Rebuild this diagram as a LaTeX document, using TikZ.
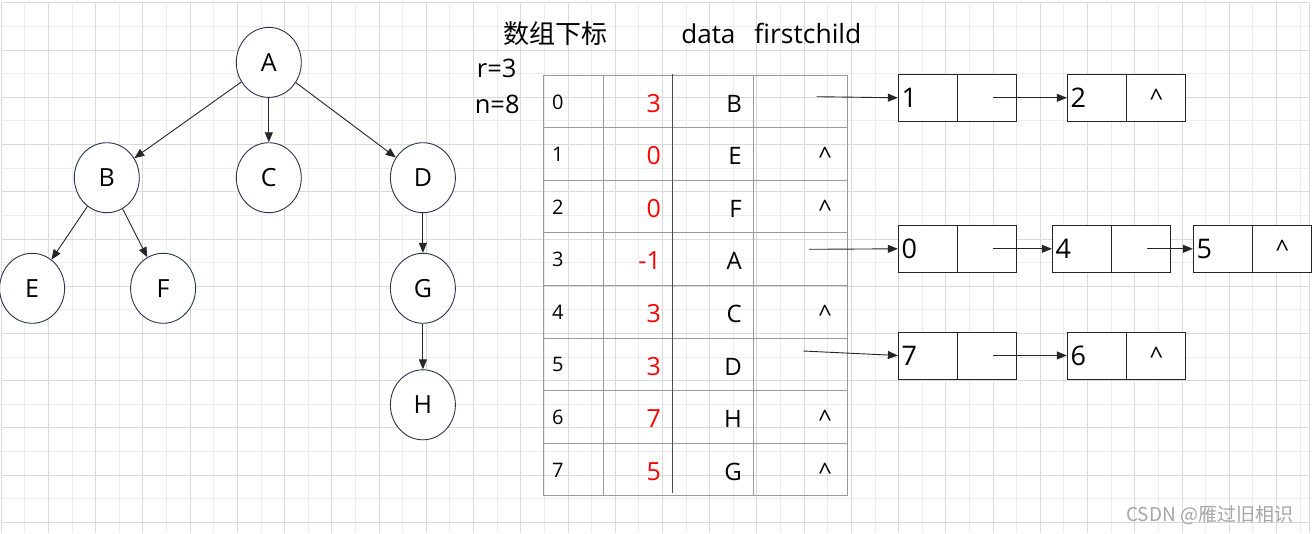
\documentclass[tikz,border=0pt]{standalone}
\usepackage{fontspec}
\setmainfont{Open Sans}
\newfontfamily\cjk{Noto Sans CJK SC}
\usetikzlibrary{shapes.geometric,arrows.meta,positioning}
\definecolor{gridmajor}{HTML}{DADADA}
\definecolor{gridminor}{HTML}{EDEDED}
\definecolor{ring}{HTML}{2E3150}
\definecolor{tabline}{HTML}{999999}
\definecolor{ptrred}{HTML}{FF0000}
\begin{document}
\begin{tikzpicture}[x=1pt,y=-1pt]
	\tikzstyle{vertex}=[ellipse,draw=ring,line width=0.9pt,fill=white,minimum width=65pt,minimum height=70pt,inner sep=0pt,font=\fontsize{25}{30}\selectfont]
	\tikzstyle{edge}=[draw,line width=0.9pt,black!85,-{Triangle[length=10pt,width=8pt]}]
	\tikzstyle{slot}=[rectangle,draw=black!85,line width=0.9pt,fill=white,minimum width=58.7pt,minimum height=47pt,inner sep=0pt,font=\fontsize{27}{32}\selectfont]
	\tikzstyle{key}=[slot,text width=52pt,align=left]
	\tikzstyle{hat}=[slot,font=\fontsize{24}{28}\selectfont]
	\tikzstyle{cellfont}=[inner sep=0pt,font=\fontsize{24}{28}\selectfont]
	\useasboundingbox (0,0) rectangle (1313,533);
	\fill[white] (0,0) rectangle (1313,533);
	% background grid
	\foreach \k in {0,...,55} \draw[gridminor,line width=1pt] ({1.3+23.615*\k},2.9) -- ({1.3+23.615*\k},533);
	\foreach \k in {0,...,22} \draw[gridminor,line width=1pt] (1.3,{2.9+23.615*\k}) -- (1309,{2.9+23.615*\k});
	\foreach \k in {0,2,...,54} \draw[gridmajor,line width=1pt] ({1.3+23.615*\k},2.9) -- ({1.3+23.615*\k},533);
	\foreach \k in {0,2,...,22} \draw[gridmajor,line width=1pt] (1.3,{2.9+23.615*\k}) -- (1309,{2.9+23.615*\k});
	\draw[gridmajor,line width=1pt] (1309,2.9) -- (1309,533);
	% tree
	\begin{scope}
		\node [vertex] (a) at (268.8,62.4) {A};
		\node [vertex] (b) at (106.8,177.7) {B};
		\node [vertex] (c) at (268.8,177.7) {C};
		\node [vertex] (d) at (422.9,177.7) {D};
		\node [vertex] (e) at (32.1,288.3) {E};
		\node [vertex] (f) at (163.1,288.3) {F};
		\node [vertex] (g) at (422.9,288.3) {G};
		\node [vertex] (h) at (422.9,404.8) {H};
		\path[edge] (a) edge (b);
		\path[edge] (a) edge (c);
		\path[edge] (a) edge (d);
		\path[edge] (b) edge (e);
		\path[edge] (b) edge (f);
		\path[edge] (d) edge (g);
		\path[edge] (g) edge (h);
	\end{scope}
	% headers
	\node [font=\cjk\fontsize{26}{30}\selectfont] (hidx) at (555.8,33.5) {数组下标};
	\node [anchor=base,font=\fontsize{26}{30}\selectfont] (hdata) at (708.4,43.3) {data};
	\node [anchor=base,font=\fontsize{26.5}{30}\selectfont] (hfc) at (807.9,43.3) {firstchild};
	\node [anchor=base,font=\fontsize{25.5}{30}\selectfont] (rr) at (496.7,77.3) {r=3};
	\node [anchor=base,font=\fontsize{25.5}{30}\selectfont] (nn) at (497.2,113.3) {n=8};
	% table
	\draw[tabline,line width=1pt] (543.3,75.3) rectangle (847.3,495.8);
	\draw[tabline,line width=1pt] (603.3,75.3) -- (603.3,495.8);
	\draw[tabline,line width=1pt] (753.3,75.3) -- (753.3,495.8);
	\foreach \k in {1,...,7} \draw[tabline,line width=1pt] (543.3,{75.3+52.56*\k}) -- (847.3,{75.3+52.56*\k});
	\draw[black!70,line width=1.5pt] (672.7,74) -- (672.7,492.7);
	\foreach \i/\p/\d/\f in {0/3/B/{},1/0/E/\textasciicircum,2/0/F/\textasciicircum,3/-1/A/{},4/3/C/\textasciicircum,5/3/D/{},6/7/H/\textasciicircum,7/5/G/\textasciicircum}{
		\pgfmathsetmacro\ry{101.6+52.56*\i}
		\node [anchor=base west,inner sep=0pt,font=\fontsize{20}{24}\selectfont] (idx\i) at (552,{\ry+7.5}) {\i};
		\node [anchor=base east,text=ptrred,inner sep=0pt,font=\fontsize{25}{30}\selectfont] (par\i) at (661,{\ry+10.7}) {\p};
		\node [anchor=base east,cellfont] (dat\i) at (742,{\ry+10.7}) {\d};
		\node [anchor=base,cellfont] (fc\i) at (825,{\ry+10.7}) {\f};
	}
	% child lists
	\node [key] (c1) at (927.65,97.8) {1};
	\node [slot,right=0pt of c1] (c1n) {};
	\node [key] (c2) at (1096.65,97.8) {2};
	\node [hat,right=0pt of c2] (c2n) {\textasciicircum};
	\node [key] (c0) at (927.65,248.8) {0};
	\node [slot,right=0pt of c0] (c0n) {};
	\node [key] (c4) at (1081.65,248.8) {4};
	\node [slot,right=0pt of c4] (c4n) {};
	\node [key] (c5) at (1222.65,248.8) {5};
	\node [hat,right=0pt of c5] (c5n) {\textasciicircum};
	\node [key] (c7) at (927.65,355.5) {7};
	\node [slot,right=0pt of c7] (c7n) {};
	\node [key] (c6) at (1096.65,355.5) {6};
	\node [hat,right=0pt of c6] (c6n) {\textasciicircum};
	\coordinate (p0) at (816.7,96.7);
	\coordinate (p3) at (809.3,249.3);
	\coordinate (p5) at (803.3,351);
	\draw[edge] (p0) -- (c1.west);
	\draw[edge] ([xshift=6pt]c1n.center) -- (c2.west);
	\draw[edge] (p3) -- (c0.west);
	\draw[edge] ([xshift=6pt]c0n.center) -- (c4.west);
	\draw[edge] ([xshift=6pt]c4n.center) -- (c5.west);
	\draw[edge] (p5) -- (c7.west);
	\draw[edge] ([xshift=6pt]c7n.center) -- (c6.west);
	% watermark
	\node [anchor=base west,inner sep=0pt,text=gray!70,font=\cjk\fontsize{19}{22}\selectfont] (mark) at (1126,521) {CSDN @雁过旧相识};
\end{tikzpicture}
\end{document}
